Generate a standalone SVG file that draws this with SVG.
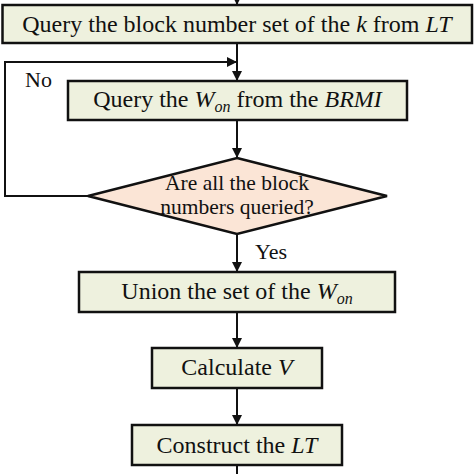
<svg xmlns="http://www.w3.org/2000/svg" width="474" height="474" viewBox="0 0 474 474">
<style>
.box{fill:#EEF1DE;stroke:#111;stroke-width:2.5}
.dia{fill:#FBE5D6;stroke:#111;stroke-width:2.5}
.t{font-family:"Liberation Serif","Times New Roman",serif;font-size:24px;fill:#111;text-anchor:middle}
.s{font-family:"Liberation Serif","Times New Roman",serif;font-size:22px;fill:#111}
.d{font-family:"Liberation Serif","Times New Roman",serif;font-size:21.5px;fill:#111;text-anchor:middle}
.i{font-style:italic}
.ln{fill:none;stroke:#111;stroke-width:2}
</style>
<defs>
<marker id="ah" viewBox="0 0 10 10" refX="10" refY="5" markerWidth="5" markerHeight="5" orient="auto" markerUnits="strokeWidth">
<path d="M0,0 L10,5 L0,10 Z" fill="#111"/>
</marker>
</defs>
<rect width="474" height="474" fill="#fff"/>
<g id="connectors">
<path class="ln" d="M237,0 V5" marker-end="url(#ah)"/>
<path class="ln" d="M237,43 V81" marker-end="url(#ah)"/>
<path class="ln" d="M88,196 H5 V62 H237" marker-end="url(#ah)"/>
<path class="ln" d="M237,120 V158" marker-end="url(#ah)"/>
<path class="ln" d="M237,234 V272" marker-end="url(#ah)"/>
<path class="ln" d="M237,312 V348" marker-end="url(#ah)"/>
<path class="ln" d="M237,388 V425" marker-end="url(#ah)"/>
<path class="ln" d="M237,465 V474"/>
<text class="s" x="25" y="87">No</text>
<text class="s" x="255" y="259">Yes</text>
</g>
<g id="n1">
<rect class="box" x="2.5" y="5" width="469.5" height="38"/>
<text class="t" x="237" y="32">Query the block number set of the <tspan class="i">k</tspan> from <tspan class="i">LT</tspan></text>
</g>
<g id="n2">
<rect class="box" x="68" y="81" width="339" height="39"/>
<text class="t" x="237.5" y="107">Query the <tspan class="i">W</tspan><tspan class="i" font-size="16" dy="5">on</tspan><tspan dy="-5"> from the </tspan><tspan class="i">BRMI</tspan></text>
</g>
<g id="n3">
<polygon class="dia" points="237,158 387,196 237,234 88,196"/>
<text class="d" x="237" y="189.5">Are all the block</text>
<text class="d" x="237" y="213.7">numbers queried?</text>
</g>
<g id="n4">
<rect class="box" x="79" y="272" width="316" height="40"/>
<text class="t" x="237" y="299">Union the set of the <tspan class="i">W</tspan><tspan class="i" font-size="16" dy="5">on</tspan></text>
</g>
<g id="n5">
<rect class="box" x="152" y="348" width="170" height="40"/>
<text class="t" x="237" y="375">Calculate <tspan class="i">V</tspan></text>
</g>
<g id="n6">
<rect class="box" x="132" y="425" width="210" height="40"/>
<text class="t" x="237" y="453">Construct the <tspan class="i">LT</tspan></text>
</g>
</svg>
